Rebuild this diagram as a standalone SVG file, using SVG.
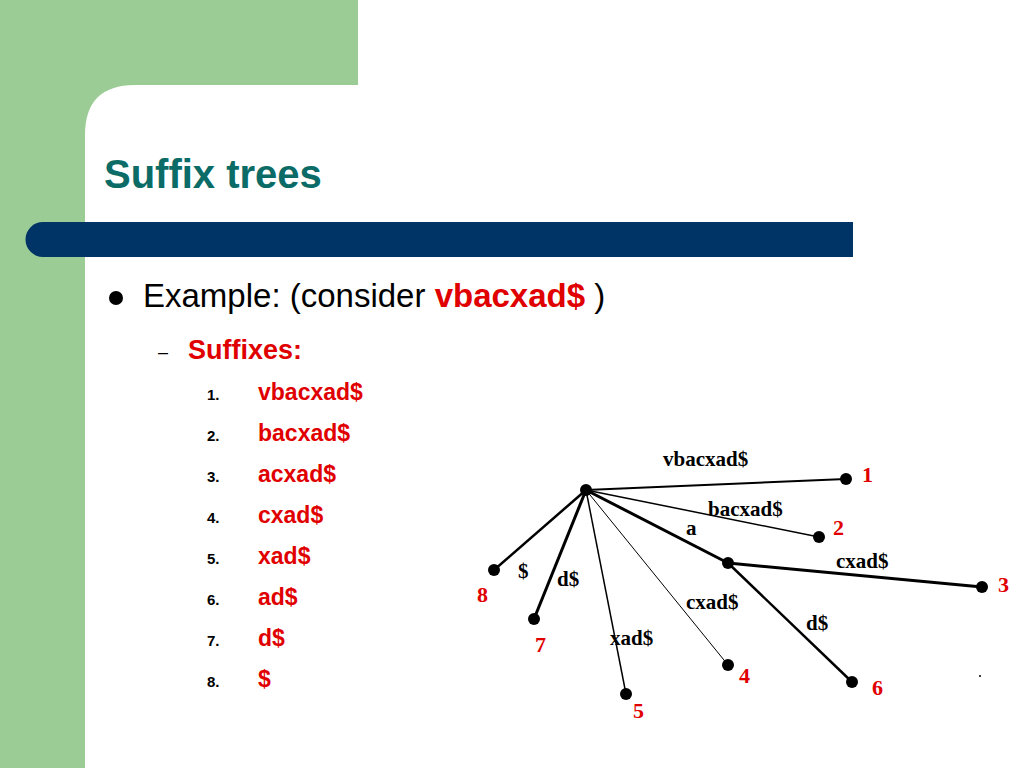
<svg xmlns="http://www.w3.org/2000/svg" width="1024" height="768" viewBox="0 0 1024 768">
<style>
.lbl{font-family:"Liberation Serif",serif;font-weight:bold;font-size:21px;fill:#000}
.num{font-family:"Liberation Serif",serif;font-weight:bold;font-size:22px;fill:#e00000}
.li{font-family:"Liberation Sans",Arial,sans-serif;font-weight:bold;font-size:23px;fill:#e00000}
.ln{font-family:"Liberation Sans",Arial,sans-serif;font-weight:bold;font-size:15px;fill:#000}
.e{stroke:#000;fill:none}
</style>
<rect width="1024" height="768" fill="#fff"/>
<path d="M0 0H358V85H135Q85 85 85 135V768H0Z" fill="#9ccc95"/>
<path d="M43 222H853V257H43A17.5 17.5 0 0 1 43 222Z" fill="#003366"/>
<text x="104" y="188" font-family="Liberation Sans,Arial,sans-serif" font-weight="bold" font-size="40" fill="#0b6b66">Suffix trees</text>
<circle cx="116" cy="298" r="7" fill="#000"/>
<text x="143" y="307" font-family="Liberation Sans,Arial,sans-serif" font-size="33" fill="#000">Example: (consider <tspan font-weight="bold" fill="#e00000">vbacxad$</tspan> )</text>
<text x="158" y="358" font-family="Liberation Sans,Arial,sans-serif" font-size="18" fill="#000">–</text>
<text x="188" y="359" font-family="Liberation Sans,Arial,sans-serif" font-weight="bold" font-size="27" fill="#e00000">Suffixes:</text>
<g>
<text class="ln" x="207" y="400">1.</text><text class="li" x="258" y="400">vbacxad$</text>
<text class="ln" x="207" y="441">2.</text><text class="li" x="258" y="441">bacxad$</text>
<text class="ln" x="207" y="482">3.</text><text class="li" x="258" y="482">acxad$</text>
<text class="ln" x="207" y="523">4.</text><text class="li" x="258" y="523">cxad$</text>
<text class="ln" x="207" y="564">5.</text><text class="li" x="258" y="564">xad$</text>
<text class="ln" x="207" y="605">6.</text><text class="li" x="258" y="605">ad$</text>
<text class="ln" x="207" y="646">7.</text><text class="li" x="258" y="646">d$</text>
<text class="ln" x="207" y="687">8.</text><text class="li" x="258" y="687">$</text>
</g>
<g id="edges">
<line class="e" x1="586" y1="490" x2="846" y2="479" stroke-width="2"/>
<line class="e" x1="586" y1="490" x2="819" y2="537" stroke-width="1.5"/>
<line class="e" x1="586" y1="490" x2="728" y2="563" stroke-width="3"/>
<line class="e" x1="728" y1="563" x2="982" y2="587" stroke-width="3"/>
<line class="e" x1="728" y1="563" x2="852" y2="682" stroke-width="2.5"/>
<line class="e" x1="586" y1="490" x2="494" y2="570" stroke-width="2.5"/>
<line class="e" x1="586" y1="490" x2="534" y2="619" stroke-width="3"/>
<line class="e" x1="586" y1="490" x2="626" y2="694" stroke-width="1.5"/>
<line class="e" x1="586" y1="490" x2="728" y2="665" stroke-width="1"/>
<text class="lbl" x="663" y="466">vbacxad$</text>
<text class="lbl" x="708" y="516">bacxad$</text>
<text class="lbl" x="686" y="535">a</text>
<text class="lbl" x="836" y="568">cxad$</text>
<text class="lbl" x="806" y="630">d$</text>
<text class="lbl" x="686" y="609">cxad$</text>
<text class="lbl" x="610" y="645">xad$</text>
<text class="lbl" x="557" y="586">d$</text>
<text class="lbl" x="518" y="578">$</text>
</g>
<g id="root"><circle cx="586" cy="490" r="6"/></g>
<g id="n1"><circle cx="846" cy="479" r="6"/><text class="num" x="862" y="482">1</text></g>
<g id="n2"><circle cx="819" cy="537" r="6"/><text class="num" x="833" y="535">2</text></g>
<g id="nA"><circle cx="728" cy="563" r="6"/></g>
<g id="n3"><circle cx="982" cy="587" r="6"/><text class="num" x="998" y="592">3</text></g>
<g id="n4"><circle cx="728" cy="665" r="6"/><text class="num" x="739" y="683">4</text></g>
<g id="n5"><circle cx="626" cy="694" r="6"/><text class="num" x="633" y="718">5</text></g>
<g id="n6"><circle cx="852" cy="682" r="6"/><text class="num" x="872" y="695">6</text></g>
<g id="n7"><circle cx="534" cy="619" r="6"/><text class="num" x="535" y="652">7</text></g>
<g id="n8"><circle cx="494" cy="570" r="6"/><text class="num" x="477" y="602">8</text></g>
<circle cx="980" cy="676" r="1" fill="#000"/>
</svg>
